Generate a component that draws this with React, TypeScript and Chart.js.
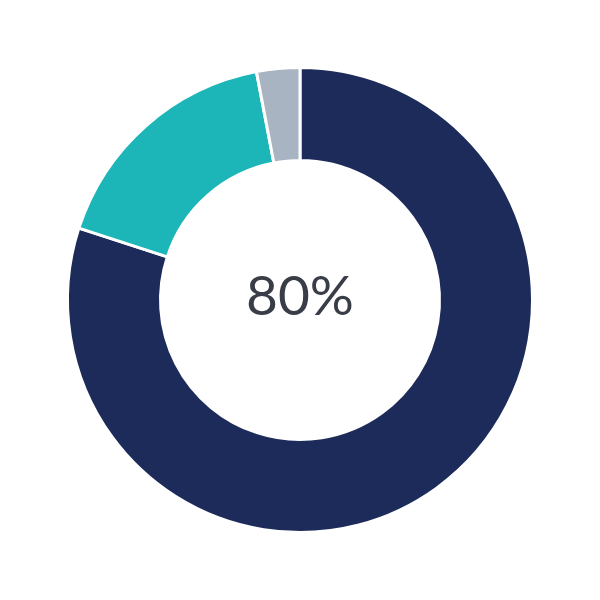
import React, { useEffect, useRef } from "react";
import { Chart, registerables } from "chart.js";

Chart.register(...registerables);

const categories = ["A", "B", "C"];
const values = [80, 17, 3];
const colors = ["#1c2b5a", "#1cb5b8", "#a9b4c2"];
const centerLabel = "80%";

const centerText = {
  id: "centerText",
  afterDraw(chart: any) {
    const { ctx, chartArea } = chart;
    const cx = (chartArea.left + chartArea.right) / 2;
    const cy = (chartArea.top + chartArea.bottom) / 2;
    ctx.save();
    ctx.font = "400 55px Lato";
    ctx.fillStyle = "#383d47";
    ctx.textAlign = "center";
    ctx.textBaseline = "middle";
    ctx.fillText(centerLabel, cx, cy - 3);
    ctx.restore();
  },
};

export default function App() {
  const ref = useRef<HTMLCanvasElement>(null);
  useEffect(() => {
    document.body.style.margin = "0";
    const chart = new Chart(ref.current!, {
      type: "doughnut",
      data: {
        labels: categories,
        datasets: [
          {
            data: values,
            backgroundColor: colors,
            borderColor: "#ffffff",
            borderWidth: 3,
          },
        ],
      },
      options: {
        animation: false,
        responsive: false,
        cutout: "60%",
        layout: { padding: 66 },
        plugins: { legend: { display: false }, tooltip: { enabled: false } },
      },
      plugins: [centerText],
    });
    return () => chart.destroy();
  }, []);
  return (
    <div style={{ width: 600, height: 600 }}>
      <canvas ref={ref} width={600} height={600} />
    </div>
  );
}
